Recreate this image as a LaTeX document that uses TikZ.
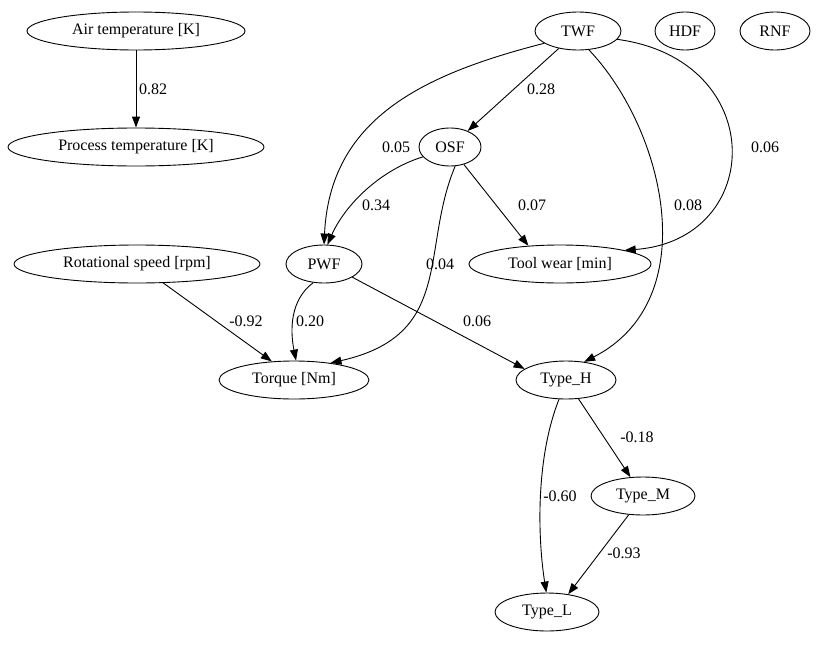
\documentclass[tikz,border=0pt]{standalone}
\usepackage{fontspec}
\setmainfont{Liberation Serif}
\usetikzlibrary{arrows.meta,shapes.geometric}
\begin{document}
\begin{tikzpicture}[x=1pt,y=-1pt,line width=0.9pt,
  n/.style={draw,ellipse,minimum height=38pt,inner sep=0pt,font=\fontsize{16}{19}\selectfont},
  e/.style={draw,-{Triangle[length=11pt,width=8pt]}},
  l/.style={font=\fontsize{16}{19}\selectfont}]
\useasboundingbox (0,0) rectangle (821,645);
\node[n,minimum width=218pt] (air) at (136,31) {Air temperature [K]};
\node[n,minimum width=256pt] (proc) at (136,147) {Process temperature [K]};
\node[n,minimum width=86pt] (twf) at (578,31) {TWF};
\node[n,minimum width=60pt] (hdf) at (685,31) {HDF};
\node[n,minimum width=70pt] (rnf) at (775,31) {RNF};
\node[n,minimum width=62pt] (osf) at (450,147) {OSF};
\node[n,minimum width=76pt] (pwf) at (324,264) {PWF};
\node[n,minimum width=246pt] (rot) at (137,264) {Rotational speed [rpm]};
\node[n,minimum width=182pt] (tw) at (560,264) {Tool wear [min]};
\node[n,minimum width=150pt] (tq) at (294,380) {Torque [Nm]};
\node[n,minimum width=100pt] (th) at (566,380) {Type\_H};
\node[n,minimum width=104pt] (tm) at (643,496) {Type\_M};
\node[n,minimum width=104pt] (tl) at (547,612) {Type\_L};

\path[e] (air) -- (proc) node[l,at={(153,89)}] {0.82};
\path[e] (twf) -- (osf) node[l,at={(541,89)}] {0.28};
\path[e] (twf.200) .. controls (420,75) and (330,120) .. (pwf.north) node[l,at={(396,147)}] {0.05};
\path[e] (twf.-60) .. controls (665,130) and (705,300) .. (th.45) node[l,at={(688,205)}] {0.08};
\path[e] (twf.-12) .. controls (770,60) and (765,240) .. (tw.12) node[l,at={(765,147)}] {0.06};
\path[e] (osf.200) .. controls (380,170) and (345,205) .. (pwf.80) node[l,at={(376,205)}] {0.34};
\path[e] (osf) -- (tw.150) node[l,at={(532,205)}] {0.07};
\path[e] (osf.-75) .. controls (420,250) and (455,335) .. (tq.25) node[l,at={(440,264)}] {0.04};
\path[e] (pwf.-120) .. controls (290,300) and (290,330) .. (tq.84) node[l,at={(310,321)}] {0.20};
\path[e] (pwf.-25) -- (th.165) node[l,at={(477,321)}] {0.06};
\path[e] (rot) -- (tq.140) node[l,at={(246,321)}] {-0.92};
\path[e] (th) -- (tm) node[l,at={(637,437)}] {-0.18};
\path[e] (th.-110) .. controls (535,460) and (538,540) .. (tl.92) node[l,at={(560,496)}] {-0.60};
\path[e] (tm) -- (tl.40) node[l,at={(624,553)}] {-0.93};
\end{tikzpicture}
\end{document}
